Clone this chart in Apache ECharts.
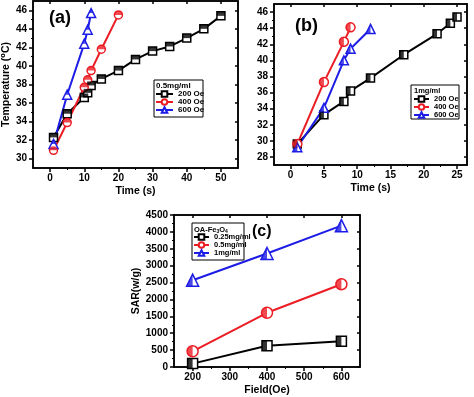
<!DOCTYPE html>
<html>
<head>
<meta charset="utf-8">
<script src="https://cdn.jsdelivr.net/npm/echarts@6/dist/echarts.min.js"></script>
<style>
  html, body { margin: 0; padding: 0; background: #fff; }
  #chart { width: 474px; height: 397px; }
</style>
</head>
<body>
<div id="chart"></div>
<script>
// panel (a): 0.5 mg/ml
const timeA200 = [1, 5, 10, 11, 12, 15, 20, 25, 30, 35, 40, 45, 50];
const tempA200 = [32.3, 34.85, 36.6, 37.1, 37.9, 38.6, 39.5, 40.7, 41.6, 42.1, 43.0, 44.0, 45.4];
const timeA400 = [1, 5, 10, 11, 12, 15, 20];
const tempA400 = [30.9, 33.9, 37.7, 38.5, 39.5, 41.8, 45.5];
const timeA600 = [1, 5, 10, 11, 12];
const tempA600 = [31.6, 36.9, 42.4, 43.9, 45.7];

// panel (b): 1 mg/ml
const timeB200 = [1, 5, 8, 9, 12, 17, 22, 24, 25];
const tempB200 = [29.6, 33.25, 34.9, 36.2, 37.8, 40.7, 43.3, 44.6, 45.4];
const timeB400 = [1, 5, 8, 9];
const tempB400 = [29.6, 37.3, 42.3, 44.1];
const timeB600 = [1, 5, 8, 9, 12];
const tempB600 = [29.2, 34.1, 40.0, 41.45, 43.9];

// panel (c): SAR vs field
const fields = [200, 400, 600];
const sar025 = [100, 630, 765];
const sar05 = [465, 1605, 2450];
const sar1 = [2570, 3360, 4185];

// tick labels
const ticksAx = [0, 10, 20, 30, 40, 50];
const ticksAy = [30, 32, 34, 36, 38, 40, 42, 44, 46];
const ticksBx = [0, 5, 10, 15, 20, 25];
const ticksBy = [28, 30, 32, 34, 36, 38, 40, 42, 44, 46];
const ticksCx = [200, 300, 400, 500, 600];
const ticksCy = [0, 500, 1000, 1500, 2000, 2500, 3000, 3500, 4000, 4500];

const F = 'Liberation Sans, Arial, DejaVu Sans, sans-serif';
const BLACK = '#000', RED = '#ec1c24', BLUE = '#1c1ce6';
const lab = { color: '#000', fontFamily: F, fontWeight: 'bold', fontSize: 10 };

const HALF = {
    rect: { left: 'path://M0,0H1V2H0Z', top: 'path://M0,0H2V1H0Z' },
    circle: { left: 'path://M10,0A10,10,0,0,0,10,20Z', top: 'path://M0,10A10,10,0,0,1,20,10Z' },
    triangle: { left: 'path://M1,0L1,2L0,2Z', top: 'path://M1,0L2,2L0,2Z' }
};

const xAxis = [], yAxis = [], series = [];

// main axis + minor tick axis + mirrored axis for each side
function addAxes(g, dim, min, max, majors, name, nameGap) {
    const list = dim === 'x' ? xAxis : yAxis;
    const step = majors[1] - majors[0];
    const minors = [];
    if (majors[0] - step / 2 > min) minors.push(majors[0] - step / 2);
    for (let i = 0; i < majors.length - 1; i++) minors.push((majors[i] + majors[i + 1]) / 2);
    const last = majors[majors.length - 1];
    if (last + step / 2 < max) minors.push(last + step / 2);

    const base = { type: 'value', gridIndex: g, min, max, splitLine: { show: false } };
    const line = { color: '#000', width: 1.5 };
    list.push(Object.assign({}, base, {
        position: dim === 'x' ? 'bottom' : 'left',
        axisLine: { show: true, onZero: false, lineStyle: line },
        axisTick: { show: true, length: 4, customValues: majors, lineStyle: line },
        axisLabel: Object.assign({ customValues: majors, margin: dim === 'x' ? 5 : 6, formatter: v => String(v) }, lab),
        name, nameLocation: 'middle', nameGap,
        nameTextStyle: Object.assign({}, lab, { fontSize: 10.5 })
    }));
    list.push(Object.assign({}, base, {
        position: dim === 'x' ? 'bottom' : 'left',
        axisLine: { show: false, onZero: false },
        axisTick: { show: true, length: 2, customValues: minors, lineStyle: { color: '#000', width: 1 } },
        axisLabel: { show: false }
    }));
    list.push(Object.assign({}, base, {
        position: dim === 'x' ? 'top' : 'right',
        axisLine: { show: true, onZero: false, lineStyle: line },
        axisTick: { show: true, inside: true, length: 3, customValues: majors, lineStyle: line },
        axisLabel: { show: false }
    }));
}

function addSeries(name, xs, ys, color, shape, half, g, size) {
    const data = xs.map((x, i) => [x, ys[i]]);
    const ax = { xAxisIndex: g * 3, yAxisIndex: g * 3 };
    series.push(Object.assign({
        name, type: 'line', data, symbol: shape, symbolSize: size,
        lineStyle: { color, width: 2 },
        itemStyle: { color: '#fff', borderColor: color, borderWidth: 1.5 },
        z: 2
    }, ax));
    let sz, off;
    if (half === 'left') { sz = [size / 2, size]; off = ['-50%', 0]; }
    else if (shape === 'triangle') { sz = [size / 2, size / 2]; off = [0, '-50%']; }
    else { sz = [size, size / 2]; off = [0, '-50%']; }
    series.push(Object.assign({
        name: name + ' fill ' + g, type: 'scatter', data,
        symbol: HALF[shape][half], symbolSize: sz, symbolOffset: off,
        itemStyle: { color }, z: 3, silent: true
    }, ax));
}

addAxes(0, 'x', -5, 55, ticksAx, 'Time (s)', 18);
addAxes(0, 'y', 29, 47, ticksAy, 'Temperature (⁰C)', 19);
addAxes(1, 'x', -2.5, 26.5, ticksBx, 'Time (s)', 18);
addAxes(1, 'y', 27, 47, ticksBy, '', 0);
addAxes(2, 'x', 150, 650, ticksCx, 'Field(Oe)', 18);
addAxes(2, 'y', 0, 4500, ticksCy, 'SAR(w/g)', 30);

addSeries('200 Oe', timeA200, tempA200, BLACK, 'rect', 'top', 0, 8);
addSeries('400 Oe', timeA400, tempA400, RED, 'circle', 'top', 0, 8);
addSeries('600 Oe', timeA600, tempA600, BLUE, 'triangle', 'top', 0, 9);
addSeries('200 Oe', timeB200, tempB200, BLACK, 'rect', 'left', 1, 8);
addSeries('400 Oe', timeB400, tempB400, RED, 'circle', 'left', 1, 9);
addSeries('600 Oe', timeB600, tempB600, BLUE, 'triangle', 'left', 1, 9);
addSeries('0.25mg/ml', fields, sar025, BLACK, 'rect', 'left', 2, 10);
addSeries('0.5mg/ml', fields, sar05, RED, 'circle', 'left', 2, 11);
addSeries('1mg/ml', fields, sar1, BLUE, 'triangle', 'left', 2, 12);

const legText = { fontFamily: F, fontWeight: 'bold', color: '#000' };
const legend = [
    { left: 155, top: 90, itemWidth: 17, itemHeight: 7, itemGap: 0,
      data: ['200 Oe', '400 Oe', '600 Oe'], textStyle: Object.assign({ fontSize: 8 }, legText) },
    { left: 413, top: 95, itemWidth: 15, itemHeight: 7, itemGap: 0,
      data: ['200 Oe', '400 Oe', '600 Oe'], textStyle: Object.assign({ fontSize: 7.5 }, legText) },
    { left: 193, top: 233, itemWidth: 15, itemHeight: 7, itemGap: 0,
      data: ['0.25mg/ml', '0.5mg/ml', '1mg/ml'], textStyle: Object.assign({ fontSize: 7.5 }, legText) }
].map(l => Object.assign({ orient: 'vertical', padding: 0, selectedMode: false }, l));

function box(x, y, w, h) {
    return { type: 'rect', shape: { x, y, width: w, height: h }, style: { fill: 'none', stroke: '#000', lineWidth: 1 }, silent: true };
}
function txt(x, y, text, size, extra) {
    return { type: 'text', x, y, silent: true,
        style: Object.assign({ text, font: 'bold ' + size + 'px ' + F, fill: '#000' }, extra || {}) };
}

const option = {
    animation: false,
    backgroundColor: '#fff',
    grid: [
        { left: 33, top: 1, right: 236, bottom: 229 },
        { left: 274, top: 4, right: 7, bottom: 232 },
        { left: 174, top: 215, right: 114, bottom: 29 }
    ].map(g => Object.assign({ show: true, borderColor: '#000', borderWidth: 1.5 }, g)),
    xAxis, yAxis, series, legend,
    graphic: [
        box(154, 80, 49, 37),
        box(411, 85, 48, 34),
        box(192, 223, 52, 37),
        txt(156, 82, '0.5mg/ml', 8),
        txt(414, 87, '1mg/ml', 7.5),
        txt(194, 225, 'OA-Fe{s|3}O{s|4}', 7.5, {
            rich: { s: { fontSize: 5, fontWeight: 'bold', fontFamily: F, verticalAlign: 'bottom', padding: [4, 0, 0, 0] } }
        }),
        txt(49, 9, '(a)', 18),
        txt(295, 17, '(b)', 18),
        txt(252, 224, '(c)', 16)
    ]
};

const chart = echarts.init(document.getElementById('chart'));
chart.setOption(option);
</script>
</body>
</html>
